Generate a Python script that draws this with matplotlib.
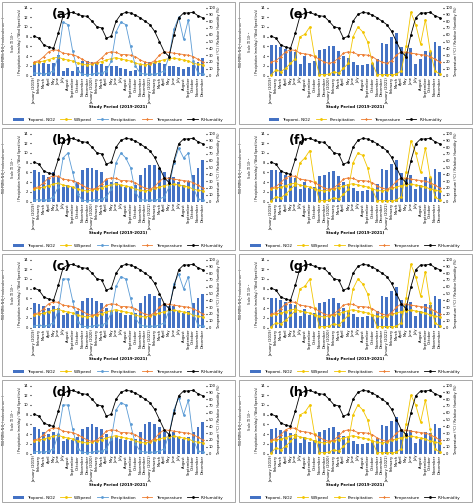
import numpy as np
import matplotlib.pyplot as plt

months = ["January (2019)", "February", "March", "April", "May", "June", "July", "August",
          "September", "October", "November", "December",
          "January (2020)", "February", "March", "April", "May", "June", "July", "August",
          "September", "October", "November", "December",
          "January (2021)", "February", "March", "April", "May", "June", "July", "August",
          "September", "October", "November", "December"]

humidity = [58, 55, 45, 42, 40, 62, 88, 92, 93, 90, 88, 87, 80, 72, 70, 55, 58, 80,
            90, 93, 92, 89, 85, 80, 75, 65, 50, 35, 28, 60, 85, 92, 92, 93, 88, 85]
temperature = [20, 22, 28, 35, 38, 37, 33, 32, 31, 28, 24, 20, 18, 20, 26, 33, 35, 34,
               31, 31, 30, 28, 23, 20, 18, 22, 30, 35, 34, 33, 32, 31, 30, 28, 24, 20]
wind = [2.6, 2.8, 3.0, 3.3, 3.6, 3.8, 3.4, 3.2, 3.0, 2.6, 2.3, 2.2, 2.4, 2.6, 2.9, 3.2,
        3.5, 3.7, 3.4, 3.2, 3.0, 2.6, 2.3, 2.2, 2.4, 2.7, 3.0, 3.3, 3.5, 3.6, 3.4, 3.2,
        3.0, 2.6, 2.3, 2.2]

precip = {
    "a": [0.5, 0.5, 0.3, 0.5, 1, 4, 11, 10.5, 5, 1, 0.3, 0.2, 0.3, 0.5, 0.5, 1, 3, 9,
          11, 10.5, 6, 2, 0.5, 0.3, 0.3, 0.3, 0.5, 1, 4, 9.5, 12, 7.5, 11.5, 3, 0.5, 0.3],
    "b": [0.3, 0.4, 0.3, 0.4, 1, 3, 9, 10, 6, 1.5, 0.3, 0.2, 0.3, 0.4, 0.5, 1, 2.5, 8,
          10, 9, 7, 2, 0.4, 0.3, 0.3, 0.3, 0.5, 1, 3, 8, 11, 9, 10, 3, 0.5, 0.3],
    "c": [0.4, 0.5, 0.3, 0.5, 1, 3.5, 10, 10, 5.5, 1.2, 0.3, 0.2, 0.3, 0.5, 0.5, 1, 3, 8.5,
          10.5, 10, 6, 2, 0.5, 0.3, 0.3, 0.3, 0.5, 1, 3.5, 9, 11, 8, 10.5, 3, 0.5, 0.3],
    "d": [0.4, 0.4, 0.3, 0.5, 1, 4, 10, 10, 5, 1, 0.3, 0.2, 0.3, 0.5, 0.5, 1, 3, 9,
          10.5, 10, 6, 2, 0.5, 0.3, 0.3, 0.3, 0.5, 1, 4, 9, 11.5, 8, 11, 3, 0.5, 0.3],
    "e": [0.2, 1.2, 0.8, 1.5, 2.5, 3.5, 8, 8.5, 10, 4, 0.2, 0.2, 0.3, 0.8, 0.5, 1.5, 2.5, 8,
          10, 9, 7, 2.5, 0.2, 0.2, 0.2, 0.2, 0.3, 1, 6, 13, 10.5, 6.5, 11.5, 5, 1, 0.3],
    "f": [0.2, 1.0, 0.8, 1.5, 2.5, 3.5, 8, 9, 10.5, 4, 0.2, 0.2, 0.3, 0.8, 0.5, 1.5, 2.5, 8,
          10, 9.5, 7, 2.5, 0.2, 0.2, 0.2, 0.2, 0.3, 1, 6, 12.5, 10, 6, 11, 5, 1, 0.3],
    "g": [0.2, 1.0, 0.8, 1.5, 2.5, 3.5, 8, 8.5, 10, 4, 0.2, 0.2, 0.3, 0.8, 0.5, 1.5, 2.5, 8,
          10, 9, 7, 2.5, 0.2, 0.2, 0.2, 0.2, 0.3, 1, 6, 13, 10.5, 6.5, 11.5, 5, 1, 0.3],
    "h": [0.2, 1.2, 0.8, 1.5, 2.5, 3.5, 8, 8.5, 10, 4, 0.2, 0.2, 0.3, 0.8, 0.5, 1.5, 2.5, 8,
          10, 9, 7, 2.5, 0.2, 0.2, 0.2, 0.2, 0.3, 1, 6, 12, 10, 6.5, 11, 5, 1, 0.3],
}

no2 = {
    "a": [2.8, 2.6, 2.5, 2.3, 2.6, 4.2, 1.0, 1.6, 1.0, 1.8, 3.0, 3.0, 2.8, 2.6, 2.3, 2.0,
          2.0, 2.0, 1.5, 1.4, 1.0, 1.2, 2.2, 2.8, 2.8, 2.6, 2.6, 2.4, 2.0, 2.0, 1.8, 1.4,
          1.8, 2.2, 2.8, 3.6],
    "b": [6.5, 6.0, 5.5, 5.0, 6.0, 5.0, 3.0, 3.5, 3.0, 4.0, 6.5, 7.0, 7.0, 6.5, 6.0, 4.5,
          4.0, 4.0, 3.5, 3.0, 3.0, 3.5, 5.5, 7.0, 7.5, 7.5, 7.0, 6.0, 5.0, 5.0, 4.0, 3.5,
          4.0, 5.5, 7.0, 8.5],
    "c": [5.0, 4.8, 4.5, 4.0, 4.5, 4.0, 2.5, 3.0, 2.5, 3.5, 5.5, 6.0, 6.0, 5.5, 5.0, 4.0,
          3.5, 3.5, 3.0, 2.5, 2.5, 3.0, 5.0, 6.5, 7.0, 6.5, 6.0, 5.0, 4.5, 4.5, 3.5, 3.0,
          3.5, 5.0, 6.0, 7.0],
    "d": [5.5, 5.0, 4.5, 4.0, 4.5, 4.0, 2.5, 3.0, 2.8, 3.5, 5.0, 5.5, 6.0, 5.5, 5.0, 4.0,
          3.5, 3.5, 3.0, 2.8, 2.5, 3.0, 4.5, 6.0, 6.5, 6.0, 5.5, 4.5, 4.0, 4.5, 3.5, 3.0,
          3.5, 4.5, 5.5, 6.5],
    "e": [6.2, 6.3, 5.8, 5.5, 5.0, 4.8, 2.4, 4.0, 2.6, 3.0, 5.2, 5.4, 6.0, 6.1, 5.0, 4.0,
          3.6, 2.7, 2.1, 2.1, 2.4, 2.5, 3.5, 6.7, 6.4, 8.0, 8.7, 5.8, 4.8, 5.6, 2.4, 3.5,
          5.0, 4.8, 6.9, 6.0],
    "f": [6.5, 6.5, 6.0, 5.5, 5.0, 4.8, 2.5, 4.0, 2.7, 3.0, 5.2, 5.5, 6.0, 6.2, 5.2, 4.0,
          3.6, 2.8, 2.2, 2.2, 2.4, 2.6, 3.6, 6.8, 6.5, 7.8, 8.5, 5.8, 4.8, 5.5, 2.5, 3.5,
          5.0, 4.8, 6.8, 6.0],
    "g": [6.0, 6.0, 5.6, 5.2, 4.8, 4.6, 2.4, 3.8, 2.6, 3.0, 5.0, 5.2, 5.8, 6.0, 5.0, 4.0,
          3.5, 2.7, 2.1, 2.1, 2.3, 2.5, 3.4, 6.5, 6.2, 7.6, 8.3, 5.6, 4.6, 5.3, 2.4, 3.4,
          4.8, 4.6, 6.6, 5.8],
    "h": [5.0, 5.2, 4.8, 4.6, 4.2, 4.0, 2.2, 3.5, 2.4, 2.8, 4.5, 4.8, 5.2, 5.4, 4.5, 3.6,
          3.2, 2.5, 2.0, 2.0, 2.2, 2.3, 3.2, 5.8, 5.6, 6.8, 7.5, 5.0, 4.2, 4.8, 2.2, 3.1,
          4.4, 4.2, 6.0, 5.3],
}

left_panels = ["a", "b", "c", "d"]
right_panels = ["e", "f", "g", "h"]

fig = plt.figure(figsize=(4.74, 5.04), dpi=100)
x = np.arange(len(months))
fs = 2.6

def draw_panel(key, col, row):
    left = 0.04 + col * 0.5
    bottom = 1 - (row + 1) * 0.25
    # grey box around the panel
    fig.patches.append(plt.Rectangle((left - 0.035, bottom + 0.003), 0.49, 0.244,
                                     transform=fig.transFigure, fill=False,
                                     ec="#999999", lw=0.6))
    ax = fig.add_axes([left + 0.025, bottom + 0.1, 0.37, 0.135])
    ax2 = ax.twinx()
    handles = [ax.bar(x, no2[key], width=0.6, color="#4472c4", label="Tropomi- NO2")]
    if key != "e":
        handles += ax.plot(x, wind, color="#f2c500", marker="o", ms=1, lw=0.6, label="W.Speed")
    handles += ax.plot(x, precip[key], color="#5b9bd5" if col == 0 else "#f2c500",
                       marker="o", ms=1, lw=0.6, label="Precipitation")
    handles += ax2.plot(x, temperature, color="#ed7d31", marker="x", ms=1, lw=0.6, label="Temperature")
    handles += ax2.plot(x, humidity, color="black", marker="o", ms=1, lw=0.6, label="R.Humidity")
    ax.set_ylim(0, 14)
    ax.set_yticks(range(0, 15, 2))
    ax2.set_ylim(0, 100)
    ax2.set_yticks(range(0, 101, 10))
    ax.set_xlim(-0.7, len(months) - 0.3)
    ax.set_xticks(x)
    ax.set_xticklabels(months, rotation=90, fontsize=fs)
    ax.tick_params(axis="y", labelsize=fs, length=1, pad=1)
    ax2.tick_params(axis="y", labelsize=fs, length=1, pad=1)
    ax.tick_params(axis="x", length=0, pad=1)
    for a in (ax, ax2):
        for s in a.spines.values():
            s.set_visible(False)
    ax.set_ylabel("TROPOMI - NO$_2$ (molecules cm$^{-2}$)\nScale 1X 10$^{15}$\n/ Precipitation (mm/day) / Wind Speed (m/s)",
                  fontsize=2.2, labelpad=1)
    ax2.set_ylabel("Temperature (°C) / Relative Humidity (%)", fontsize=2.4, labelpad=1)
    ax.set_xlabel("Study Period (2019-2021)", fontsize=fs + 0.3, fontweight="bold", labelpad=1)
    ax.text(0.12, 0.9, f"({key})", transform=ax.transAxes, fontsize=9,
            fontweight="bold", va="center")
    fig.legend(handles, [h.get_label() for h in handles], loc="center", ncol=5,
               bbox_to_anchor=(left + 0.21, bottom + 0.012), fontsize=3,
               frameon=False, handlelength=2.5, columnspacing=1.3)

for i, k in enumerate(left_panels):
    draw_panel(k, 0, i)
for i, k in enumerate(right_panels):
    draw_panel(k, 1, i)

fig.savefig("out.png", dpi=100)
